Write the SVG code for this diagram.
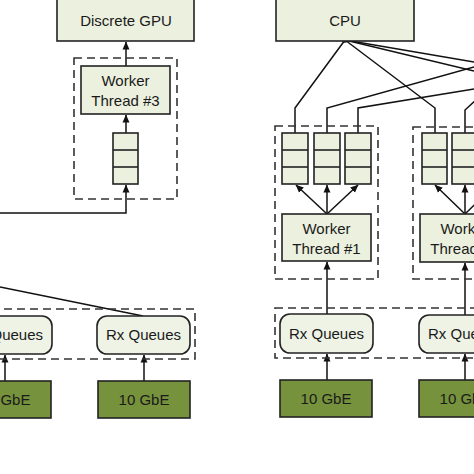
<svg xmlns="http://www.w3.org/2000/svg" width="474" height="474" viewBox="0 0 474 474">
<defs>
<marker id="ah" viewBox="0 0 8 8" refX="7.5" refY="4" markerWidth="8" markerHeight="8" markerUnits="userSpaceOnUse" orient="auto">
<path d="M0,0.5 L8,4 L0,7.5 Z" fill="#111"/>
</marker>
<style>
.box{fill:#ebf1de;stroke:#222;stroke-width:1.6}
.rx{fill:#eef3e6;stroke:#222;stroke-width:1.6}
.gbe{fill:#76923c;stroke:#222;stroke-width:1.6}
.dash{fill:none;stroke:#333;stroke-width:1.6;stroke-dasharray:8 5}
.ln{fill:none;stroke:#111;stroke-width:1.5}
.ar{fill:none;stroke:#111;stroke-width:1.5;marker-end:url(#ah)}
.div{stroke:#222;stroke-width:1.6}
text{font-family:"Liberation Sans",Arial,sans-serif;font-size:15px;fill:#1a1a1a;text-anchor:middle}
</style>
</defs>
<rect width="474" height="474" fill="#fff"/>

<g id="connectors">
<line class="ar" x1="126" y1="66" x2="126" y2="42"/>
<line class="ar" x1="126" y1="133" x2="126" y2="115"/>
<polyline class="ar" points="0,213 126,213 126,185"/>
<polyline class="ln" points="345,40 295,108 295,133"/>
<polyline class="ln" points="345,40 435,108 435,133"/>
<line class="ln" x1="345" y1="40" x2="474" y2="62"/>
<line class="ln" x1="345" y1="40" x2="474" y2="71"/>
<polyline class="ln" points="474,67 327,108 327,133"/>
<polyline class="ln" points="474,89 358,108 358,133"/>
<polyline class="ln" points="478,98 465,110 465,133"/>
<line class="ar" x1="327" y1="214" x2="296" y2="185"/>
<line class="ar" x1="327" y1="214" x2="327" y2="185"/>
<line class="ar" x1="327" y1="214" x2="358" y2="185"/>
<line class="ar" x1="465" y1="214" x2="435" y2="185"/>
<line class="ar" x1="465" y1="214" x2="465" y2="185"/>
<line class="ar" x1="465" y1="214" x2="495" y2="185"/>
<line class="ar" x1="327" y1="314" x2="327" y2="262"/>
<line class="ar" x1="465" y1="315" x2="465" y2="263"/>
<line class="ar" x1="327" y1="380" x2="327" y2="354"/>
<line class="ar" x1="465" y1="380" x2="465" y2="354"/>
<line class="ar" x1="144" y1="381" x2="144" y2="355"/>
<line class="ar" x1="5" y1="381" x2="5" y2="355"/>
<line class="ln" x1="143" y1="316" x2="0" y2="287"/>
<circle cx="345" cy="40" r="2.8" fill="#111"/>
</g>

<g id="gpu"><rect class="box" x="57" y="-1" width="137" height="42"/><text x="126" y="26">Discrete GPU</text></g>
<g id="cpu"><rect class="box" x="276" y="-1" width="138" height="42"/><text x="345" y="26">CPU</text></g>

<g id="group3"><rect class="dash" x="74" y="58" width="103" height="141"/></g>
<g id="worker3"><rect class="box" x="81" y="66" width="89" height="48"/><text x="125.5" y="86">Worker</text><text x="125.5" y="106">Thread #3</text></g>
<g id="queue3"><rect class="box" x="113" y="133" width="25" height="51"/><line class="div" x1="113" y1="150" x2="138" y2="150"/><line class="div" x1="113" y1="167" x2="138" y2="167"/></g>

<g id="group1"><rect class="dash" x="275" y="126" width="103" height="153"/></g>
<g id="queue1a"><rect class="box" x="282" y="133" width="26" height="51"/><line class="div" x1="282" y1="150" x2="308" y2="150"/><line class="div" x1="282" y1="167" x2="308" y2="167"/></g>
<g id="queue1b"><rect class="box" x="314" y="133" width="26" height="51"/><line class="div" x1="314" y1="150" x2="340" y2="150"/><line class="div" x1="314" y1="167" x2="340" y2="167"/></g>
<g id="queue1c"><rect class="box" x="345" y="133" width="26" height="51"/><line class="div" x1="345" y1="150" x2="371" y2="150"/><line class="div" x1="345" y1="167" x2="371" y2="167"/></g>
<g id="worker1"><rect class="box" x="282" y="214" width="89" height="47"/><text x="326.5" y="234">Worker</text><text x="326.5" y="254">Thread #1</text></g>

<g id="group2"><rect class="dash" x="413" y="127" width="103" height="152"/></g>
<g id="queue2a"><rect class="box" x="422" y="133" width="25" height="51"/><line class="div" x1="422" y1="150" x2="447" y2="150"/><line class="div" x1="422" y1="167" x2="447" y2="167"/></g>
<g id="queue2b"><rect class="box" x="452" y="133" width="26" height="51"/><line class="div" x1="452" y1="150" x2="478" y2="150"/><line class="div" x1="452" y1="167" x2="478" y2="167"/></g>
<g id="worker2"><rect class="box" x="420" y="214" width="89" height="48"/><text x="464.5" y="234">Worker</text><text x="464.5" y="254">Thread #2</text></g>

<g id="rxgroupR"><rect class="dash" x="275" y="308" width="230" height="50"/></g>
<g id="rxgroupL"><rect class="dash" x="-100" y="309" width="295" height="50"/></g>

<g id="rx1"><rect class="rx" x="280" y="314" width="93" height="39" rx="10"/><text x="326.5" y="339">Rx Queues</text></g>
<g id="rx2"><rect class="rx" x="419" y="315" width="93" height="38" rx="10"/><text x="465.5" y="339">Rx Queues</text></g>
<g id="rx3"><rect class="rx" x="97" y="316" width="93" height="38" rx="10"/><text x="143.5" y="340">Rx Queues</text></g>
<g id="rx4"><rect class="rx" x="-41" y="316" width="93" height="38" rx="10"/><text x="5.5" y="340">Rx Queues</text></g>

<g id="gbe1"><rect class="gbe" x="280" y="380" width="92" height="37"/><text x="326" y="404">10 GbE</text></g>
<g id="gbe2"><rect class="gbe" x="419" y="380" width="92" height="37"/><text x="465" y="404">10 GbE</text></g>
<g id="gbe3"><rect class="gbe" x="98" y="381" width="92" height="37"/><text x="144" y="405">10 GbE</text></g>
<g id="gbe4"><rect class="gbe" x="-41" y="381" width="92" height="37"/><text x="5" y="405">10 GbE</text></g>
</svg>
